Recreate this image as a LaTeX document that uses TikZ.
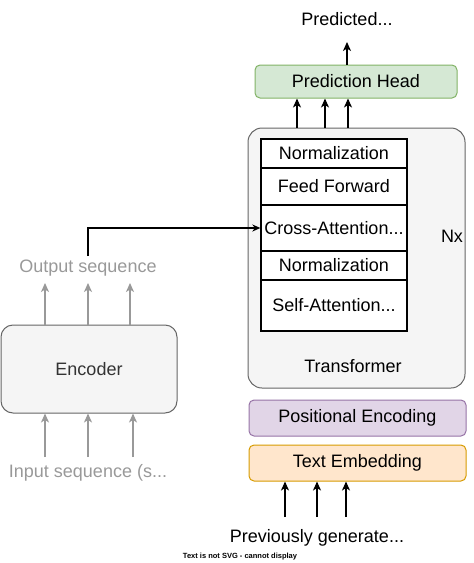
\documentclass[tikz,border=0pt]{standalone}
\usepackage{fontspec}
\setmainfont{Liberation Sans}
\usetikzlibrary{arrows.meta}
\definecolor{ggray}{HTML}{999999}
\definecolor{boxfill}{HTML}{F5F5F5}
\definecolor{boxline}{HTML}{666666}
\definecolor{txtdark}{HTML}{333333}
\definecolor{grfill}{HTML}{D5E8D4}
\definecolor{grline}{HTML}{82B366}
\definecolor{pufill}{HTML}{E1D5E7}
\definecolor{puline}{HTML}{9673A6}
\definecolor{orfill}{HTML}{FFE6CC}
\definecolor{orline}{HTML}{D79B00}
\tikzset{
  base/.style={inner sep=0pt, font=\fontsize{18}{21}\selectfont},
  rbox/.style={base, draw, line width=1pt, rounded corners=5pt, minimum width=217pt, minimum height=36pt},
  layer/.style={base, draw=black, line width=1.3pt, fill=white, minimum width=146pt},
  arr/.style={line width=1.4pt, -{Stealth[length=9pt,width=8pt,inset=2.5pt]}},
  garr/.style={arr, draw=ggray},
  lbl/.style={base, inner sep=1pt}
}
\begin{document}
\begin{tikzpicture}[x=1pt,y=-1pt]
\useasboundingbox (0,0) rectangle (474,563);
% transformer block
\node[base, draw=boxline, fill=boxfill, line width=1pt, rounded corners=14pt,
      minimum width=217pt, minimum height=260pt] (tr) at (356.5,258) {};
\node[layer, minimum height=29pt] (n1) at (334,153.5) {Normalization};
\node[layer, minimum height=37pt] (ff) at (334,186.5) {Feed Forward};
\node[layer, minimum height=46pt] (ca) at (334,228) {Cross-Attention...};
\node[layer, minimum height=29pt] (n2) at (334,265.5) {Normalization};
\node[layer, minimum height=51pt] (sa) at (334,305.5) {Self-Attention...};
\node[lbl] (nx) at (452,236) {Nx};
\node[lbl] (trl) at (353,366) {Transformer};
% prediction head
\node[rbox, draw=grline, fill=grfill, minimum width=202pt, minimum height=33pt] (ph) at (356,81.5) {Prediction Head};
\node[lbl] (pred) at (347,19) {Predicted...};
\coordinate (predb) at (347,42);
\draw[arr] (ph.north -| predb) -- (predb);
\foreach \dx in {-59.5,-31.5,-8.5}{
  \draw[arr] ([xshift=\dx pt]tr.north) -- ([xshift=\dx pt]tr.north |- ph.south);
}
% embeddings
\node[rbox, draw=puline, fill=pufill] (pe) at (357.5,418) {Positional Encoding};
\node[rbox, draw=orline, fill=orfill] (te) at (357.5,463) {Text Embedding};
\node[lbl] (prev) at (317,538) {Previously generate...};
\foreach \x in {285,317,346}{
  \coordinate (s\x) at (\x,517);
  \draw[arr] (s\x) -- (s\x |- te.south);
}
% encoder
\node[base, draw=boxline, fill=boxfill, line width=1pt, rounded corners=12pt,
      minimum width=176pt, minimum height=88pt, text=txtdark] (enc) at (89,369) {Encoder};
\node[lbl, text=ggray] (outs) at (88,268) {Output sequence};
\node[lbl, text=ggray] (ins) at (88,473) {Input sequence (s...};
\foreach \x in {45,88,130}{
  \coordinate (o\x) at (\x,283);
  \draw[garr] (o\x |- enc.north) -- (o\x);
}
\foreach \x in {45,88,133}{
  \coordinate (i\x) at (\x,457);
  \draw[garr] (i\x) -- (i\x |- enc.south);
}
\coordinate (cstart) at (88,256);
\draw[line width=1.3pt, -{Stealth[length=8pt,width=7pt,inset=2.5pt]}] (cstart) |- (ca.west);
% footer
\node[inner sep=0pt, font=\fontsize{7.5}{8.5}\selectfont\bfseries] (foot) at (240,557) {Text is not SVG - cannot display};
\end{tikzpicture}
\end{document}
